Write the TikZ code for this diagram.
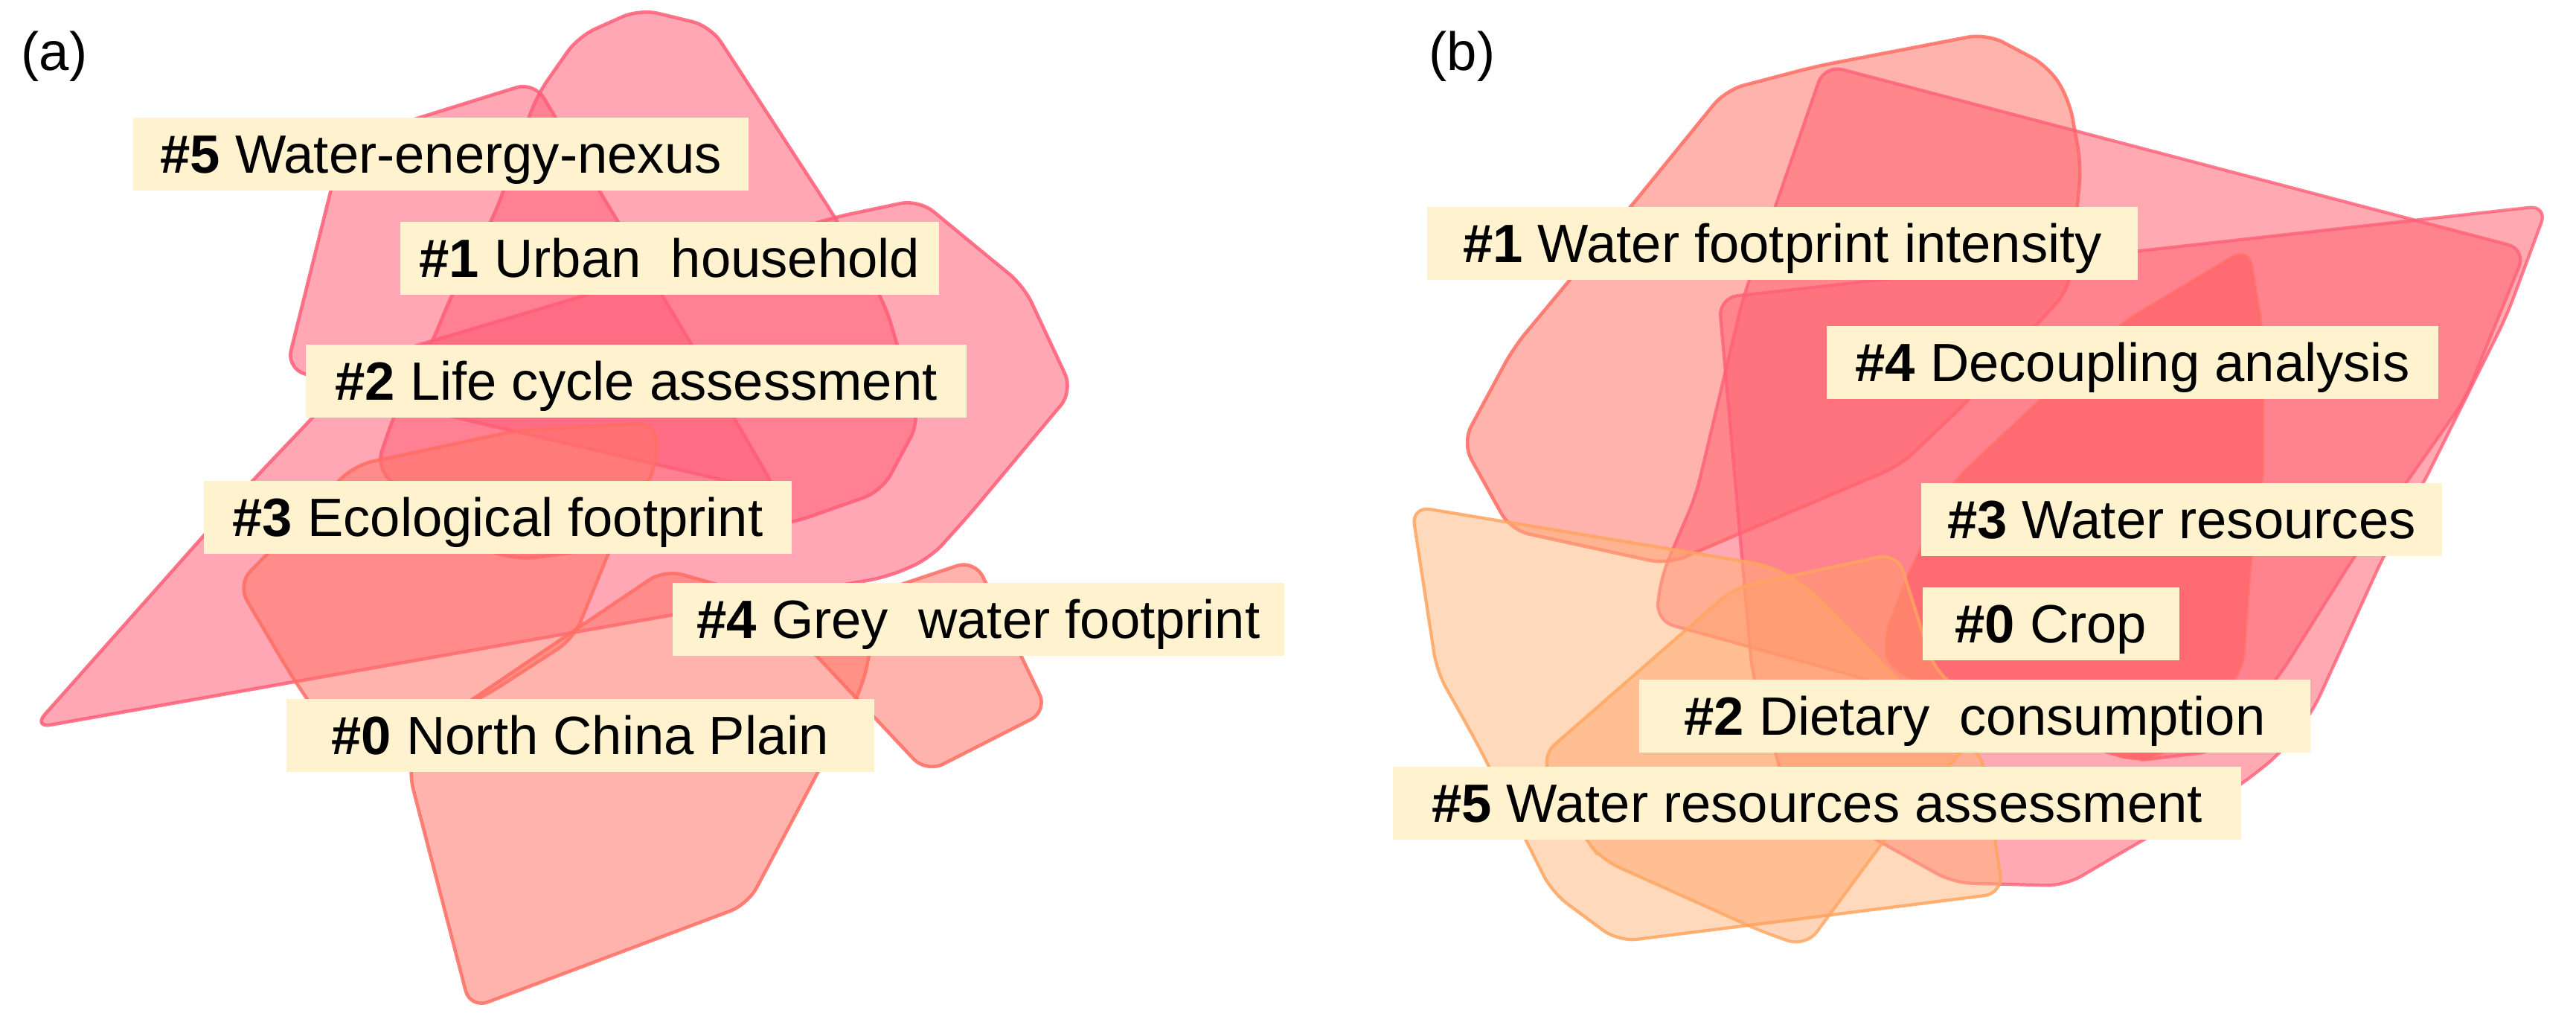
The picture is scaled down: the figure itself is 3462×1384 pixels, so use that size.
\documentclass[tikz,border=0pt]{standalone}
\usepackage{fontspec}
\setmainfont{Liberation Sans}
\definecolor{pinkF}{RGB}{255,95,120}
\definecolor{pinkD}{RGB}{255,95,120}
\definecolor{pink2F}{RGB}{255,100,115}
\definecolor{salF}{RGB}{255,118,105}
\definecolor{salD}{RGB}{255,110,100}
\definecolor{redF}{RGB}{255,70,70}
\definecolor{orgF}{RGB}{255,180,120}
\definecolor{orgD}{RGB}{255,165,95}
\definecolor{org2F}{RGB}{255,160,100}
\definecolor{lab}{RGB}{255,242,207}
\newcommand{\lblfont}{\fontsize{20.6pt}{24pt}\selectfont}
\tikzset{
  pinkpoly/.style={fill=pinkF, fill opacity=0.55, draw=pinkD, draw opacity=0.85, line width=1.3pt, rounded corners=0.25cm, line join=round},
  pinkbpoly/.style={fill=pink2F, fill opacity=0.55, draw=pinkD, draw opacity=0.8, line width=1.2pt, rounded corners=0.25cm, line join=round},
  salpoly/.style={fill=salF, fill opacity=0.55, draw=salD, draw opacity=0.85, line width=1.3pt, rounded corners=0.25cm, line join=round},
  redpoly/.style={fill=redF, fill opacity=0.38, draw=salD, draw opacity=0.6, line width=1.2pt, rounded corners=0.25cm, line join=round},
  orgpoly/.style={fill=orgF, fill opacity=0.5, draw=orgD, draw opacity=0.85, line width=1.2pt, rounded corners=0.25cm, line join=round},
  org2poly/.style={fill=org2F, fill opacity=0.45, draw=orgD, draw opacity=0.8, line width=1.2pt, rounded corners=0.25cm, line join=round},
  lbl/.style={fill=lab, anchor=north west, minimum height=0.98cm, inner sep=0pt, font=\lblfont, text height=0.52cm, text depth=0cm},
  paneltag/.style={anchor=base west, inner sep=0pt, font=\lblfont}
}
\begin{document}
\begin{tikzpicture}[x=0.01cm, y=-0.01cm]
\useasboundingbox (0,0) rectangle (3462,1384);
\fill[white] (0,0) rectangle (3462,1384);

% ---------- panel (a) ----------
\draw[pinkpoly] (44,978) -- (340,645) -- (422,559) -- (490,485) -- (779,399) -- (1121,292) -- (1235,268) -- (1321,339) -- (1376,384) -- (1442,525) -- (1304,690) -- (1250,750) -- (1193,775) -- cycle;
\draw[pinkpoly] (385,495) -- (461,190) -- (718,110) -- (926,457) -- (1045,662) -- (588,555) -- cycle;
\draw[pinkpoly] (777,49) -- (860,12) -- (955,35) -- (1121,290) -- (1190,410) -- (1236,565) -- (1185,660) -- (1066,702) -- (697,752) -- (626,731) -- (505,629) -- (531,554) -- (582,457) -- (607,396) -- (666,286) -- (721,129) -- cycle;
\draw[salpoly] (319,785) -- (476,625) -- (697,578) -- (882,568) -- (882,629) -- (824,728) -- (771,858) -- (655,933) -- (470,1025) -- (388,902) -- cycle;
\draw[salpoly] (893,765) -- (1175,845) -- (1160,920) -- (1099,1038) -- (1005,1215) -- (632,1355) -- (549,1036) -- (560,990) -- cycle;
\draw[salpoly] (1056,837) -- (1310,752) -- (1408,955) -- (1245,1038) -- cycle;

% ---------- panel (b) ----------
\draw[salpoly] (2319,121) -- (2441,89) -- (2670,45) -- (2753,89) -- (2781,134) -- (2797,223) -- (2781,388) -- (2639,544) -- (2554,625) -- (2241,758) -- (2030,712) -- (1965,595) -- (2034,467) -- (2192,277) -- cycle;
\draw[pinkbpoly] (2452,87) -- (3395,335) -- (3313,536) -- (3164,748) -- (3064,907) -- (2980,1009) -- (2870,1022) -- (2485,906) -- (2225,834) -- (2233,773) -- (2279,666) -- (2342,402) -- (2386,277) -- cycle;
\draw[pinkbpoly] (2310,400) -- (3424,276) -- (3369,424) -- (3258,647) -- (3203,748) -- (3108,956) -- (3064,1013) -- (3008,1057) -- (2881,1128) -- (2775,1190) -- (2625,1186) -- (2400,1060) -- (2355,906) -- cycle;
\draw[redpoly] (3022,332) -- (3041,446) -- (3041,647) -- (3025,748) -- (3014,902) -- (2903,1018) -- (2870,1022) -- (2540,900) -- (2531,860) -- (2562,778) -- (2625,647) -- (2853,433) -- cycle;
\draw[orgpoly] (1897,680) -- (2380,760) -- (2430,790) -- (2601,964) -- (2664,1013) -- (2692,1200) -- (2175,1265) -- (2086,1199) -- (1986,1000) -- (1931,902) -- cycle;
\draw[org2poly] (2550,743) -- (2600,901) -- (2680,960) -- (2536,1124) -- (2427,1272) -- (2369,1252) -- (2153,1155) -- (2131,1128) -- (2070,1017) -- (2330,790) -- cycle;

% ---------- labels ----------
\node[paneltag] (ta) at (28,94) {(a)};
\node[paneltag] (tb) at (1920,94) {(b)};

\node[lbl, minimum width=8.27cm] (a5) at (178,157) {\textbf{\#5} Water-energy-nexus};
\node[lbl, minimum width=7.24cm] (a1) at (537,297) {\textbf{\#1} Urban~ household};
\node[lbl, minimum width=8.88cm] (a2) at (410,462) {\textbf{\#2} Life cycle assessment};
\node[lbl, minimum width=7.90cm] (a3) at (273,645) {\textbf{\#3} Ecological footprint};
\node[lbl, minimum width=8.22cm] (a4) at (903,782) {\textbf{\#4} Grey~ water footprint};
\node[lbl, minimum width=7.90cm] (a0) at (384,938) {\textbf{\#0} North China Plain};

\node[lbl, minimum width=9.55cm] (b1) at (1917,277) {\textbf{\#1} Water footprint intensity};
\node[lbl, minimum width=8.22cm] (b4) at (2454,437) {\textbf{\#4} Decoupling analysis};
\node[lbl, minimum width=7.00cm] (b3) at (2581,648) {\textbf{\#3} Water resources};
\node[lbl, minimum width=3.45cm] (b0) at (2583,788) {\textbf{\#0} Crop};
\node[lbl, minimum width=9.02cm] (b2) at (2202,912) {\textbf{\#2} Dietary~ consumption};
\node[lbl, minimum width=11.40cm] (b5) at (1871,1029) {\textbf{\#5} Water resources assessment};
\end{tikzpicture}
\end{document}
